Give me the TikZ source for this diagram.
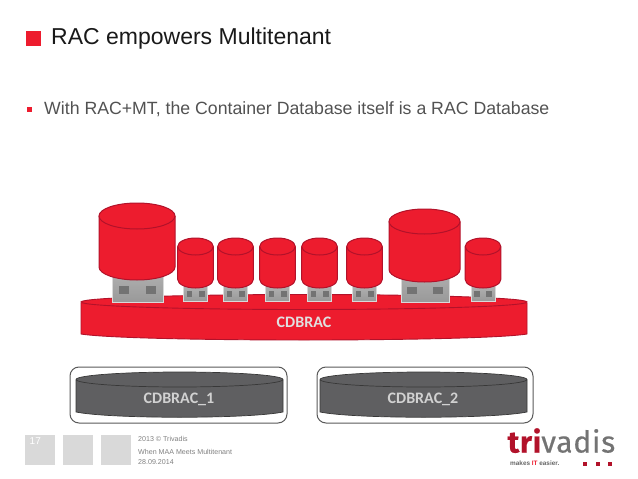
\documentclass[tikz,border=0pt]{standalone}
\usepackage{fontspec}
\setmainfont{Liberation Sans}
\newfontfamily\labelfont{Carlito}
\newfontfamily\logofont{Fira Sans}
\definecolor{tvdred}{RGB}{237, 28, 46}
\definecolor{tvdedge}{RGB}{178, 18, 42}
\definecolor{diskgray}{RGB}{95, 95, 97}
\definecolor{footgray}{RGB}{217, 217, 217}
% cylinder: centre x, half width, top y, lid half height, bottom y
\newcommand{\usbcyl}[5]{
  \draw[cyl] (#1-#2,#3) -- (#1-#2,#5-#4) arc[start angle=180, end angle=360, x radius=#2, y radius=-#4] -- (#1+#2,#3);
  \draw[cyl] (#1,#3) ellipse[x radius=#2, y radius=#4];
}
% plug: centre x, half width, top y, bottom y, hole half offset, hole half width, hole top, hole bottom
\newcommand{\usbplug}[8]{
  \fill[plug] (#1-#2,#3) rectangle (#1+#2,#4);
  \fill[plughole] (#1-#5-#6,#7) rectangle (#1-#5+#6,#8);
  \fill[plughole] (#1+#5-#6,#7) rectangle (#1+#5+#6,#8);
}
\begin{document}
\begin{tikzpicture}[x=1pt, y=-1pt,
  cyl/.style={draw=tvdedge, fill=tvdred, line width=1pt},
  plug/.style={draw=white!85!black, line width=0.6pt, top color=white!72!black, bottom color=white!60!black},
  plughole/.style={fill=white!45!black},
  platform/.style={draw=tvdedge, fill=tvdred, line width=0.9pt},
  lowdisk/.style={draw=white!22!black, fill=diskgray, line width=0.7pt},
  frame/.style={draw=white!35!black, rounded corners=9pt, line width=1pt},
  disktext/.style={font=\labelfont\bfseries\fontsize{16}{18}\selectfont, text=white!82!black},
  footbox/.style={fill=footgray, minimum size=30pt, inner sep=0pt, anchor=north west},
  foottext/.style={font=\fontsize{7.1}{8}\selectfont, text=white!50!black, anchor=west, inner sep=0pt}
]
  \useasboundingbox (0,0) rectangle (638,479);

  % heading
  \node[fill=tvdred, minimum size=15pt, inner sep=0pt] (titlebox) at (33,38.5) {};
  \node[anchor=west, inner sep=0pt, text=black!90, font=\fontsize{23}{27}\selectfont] (title) at (51,38.5) {RAC empowers Multitenant};
  \node[fill=tvdred, minimum size=5pt, inner sep=0pt] (bulletbox) at (29,109.5) {};
  \node[anchor=west, inner sep=0pt, text=white!32!black, font=\fontsize{17.7}{21}\selectfont] (bullet) at (44,109.5) {With RAC+MT, the Container Database itself is a RAC Database};

  % red platform
  \draw[platform] (81,303) -- (81,334) .. controls (130,342) and (478,342) .. (527,334) -- (527,303);
  \draw[platform] (304,302) ellipse[x radius=223, y radius=7.5];
  \node[disktext, text=white!88!black] (cdbrac) at (304,322) {CDBRAC};

  % drives
  \usbplug{137.5}{25.5}{262}{302}{13.5}{5}{286}{294}
  \usbcyl{137}{38}{216}{13}{280}
  \foreach \cx in {195.5, 235.5, 277.5, 319.5, 364.5, 483} {
    \usbplug{\cx}{12}{282}{301}{6.2}{2.8}{291}{297}
    \usbcyl{\cx}{17.8}{246.5}{8.5}{288}
  }
  \usbplug{425}{24}{262}{302}{13}{5}{287}{294}
  \usbcyl{424.5}{35.5}{221.5}{12.5}{282}

  % lower disks
  \draw[frame] (70,367) rectangle (287,423);
  \draw[lowdisk] (76,380) -- (76,412) .. controls (110,419) and (249,419) .. (283,412) -- (283,380);
  \draw[lowdisk] (179.5,379.5) ellipse[x radius=103.5, y radius=7.5];
  \node[disktext] (cdbrac1) at (179,399) {CDBRAC\_1};

  \draw[frame] (317,367) rectangle (533,423);
  \draw[lowdisk] (320,380) -- (320,412) .. controls (354,419) and (493,419) .. (527,412) -- (527,380);
  \draw[lowdisk] (423.5,379.5) ellipse[x radius=103.5, y radius=7.5];
  \node[disktext] (cdbrac2) at (423,399) {CDBRAC\_2};

  % footer
  \node[footbox] (page) at (25,435) {};
  \node[footbox] (blanka) at (63,435) {};
  \node[footbox] (blankb) at (101,435) {};
  \node[anchor=north west, inner sep=0pt, text=white, font=\fontsize{10}{11}\selectfont] (pagenum) at (29.5,437.5) {17};
  \node[foottext] (copyr) at (138,438.5) {2013 © Trivadis};
  \node[foottext] (talk) at (138,452) {When MAA Meets Multitenant};
  \node[foottext] (date) at (138,462) {28.09.2014};

  % logo
  \node[anchor=base west, inner sep=0pt, font=\logofont\fontsize{30}{34}\selectfont\addfontfeatures{LetterSpace=2.5,FakeBold=0.5}] (logo) at (507.5,452.5) {\textcolor{tvdedge}{\bfseries tri}\textcolor{white!45!black}{vadis}};
  \node[anchor=west, inner sep=0pt, font=\bfseries\fontsize{6.4}{8}\selectfont, text=white!40!black] (slogan) at (510,463.5) {makes \textcolor{tvdred}{IT} easier.};
  \foreach \dx [count=\dn] in {585, 598, 610} {
    \node[fill=tvdedge, minimum size=3.5pt, inner sep=0pt] (logodot\dn) at (\dx,464) {};
  }
\end{tikzpicture}
\end{document}
